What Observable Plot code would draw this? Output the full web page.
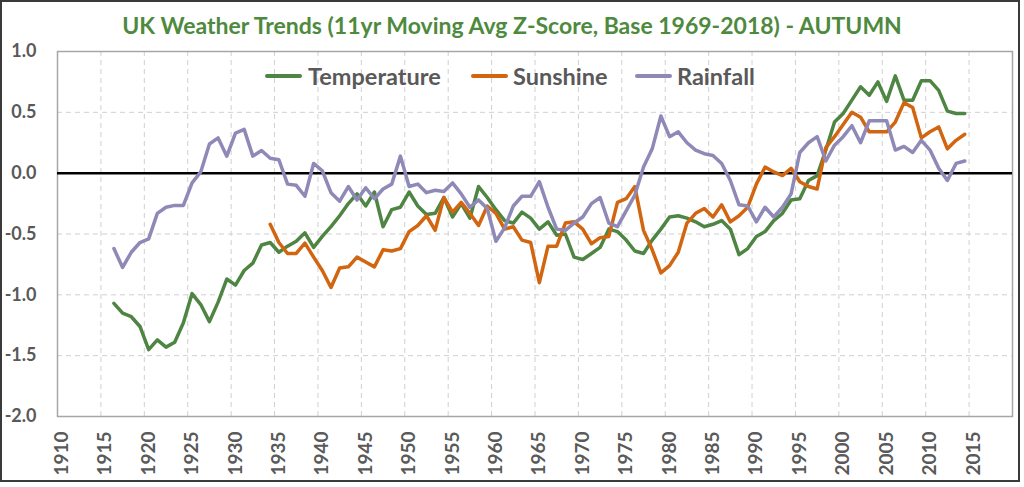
<!DOCTYPE html>
<html>
<head>
<meta charset="utf-8">
<script src="https://cdn.jsdelivr.net/npm/d3@7"></script>
<script src="https://cdn.jsdelivr.net/npm/@observablehq/plot@0.6"></script>
<style>
  html, body { margin: 0; padding: 0; background: #fff; }
  #wrap { position: relative; width: 1024px; height: 487px; overflow: hidden; }
  #title { height: 35px; box-sizing: border-box; padding-top: 15px; text-align: center; white-space: nowrap;
           font-family: Lato, sans-serif; font-weight: bold; font-size: 23px; color: #4e8a3e; line-height: 20px; }
  #border { position: absolute; left: 0; top: 0; width: 1020px; height: 482px; box-sizing: border-box;
            border: 2px solid #3a3a3a; pointer-events: none; }
  .leg { position: absolute; top: 63px; font-family: Lato, sans-serif; font-weight: bold; font-size: 23.5px;
         color: #595959; line-height: 26px; }
  .sw { position: absolute; top: 74px; height: 4px; width: 37px; border-radius: 2px; }
</style>
</head>
<body>
<div id="wrap">
  <div id="title">UK Weather Trends (11yr Moving Avg Z-Score, Base 1969-2018) - AUTUMN</div>
  <div id="chart"></div>
  <div id="legend"></div>
  <div id="border"></div>
</div>
<script>
const seriesNames = ["Temperature", "Sunshine", "Rainfall"];
const seriesColors = ["#4e8542", "#d2650f", "#8e89b6"];

const tempStart = 1916;
const temperature = [
  -1.07, -1.15, -1.18, -1.26, -1.45, -1.37, -1.43, -1.39, -1.23, -0.99,
  -1.08, -1.22, -1.06, -0.87, -0.92, -0.80, -0.74, -0.59, -0.57, -0.65,
  -0.60, -0.56, -0.49, -0.61, -0.52, -0.44, -0.35, -0.25, -0.17, -0.27,
  -0.155, -0.44, -0.30, -0.28, -0.155, -0.27, -0.34, -0.33, -0.20, -0.36,
  -0.25, -0.37, -0.11, -0.20, -0.30, -0.39, -0.41, -0.32, -0.37, -0.46,
  -0.40, -0.51, -0.50, -0.69, -0.71, -0.66, -0.61, -0.46, -0.48, -0.55,
  -0.64, -0.66, -0.55, -0.46, -0.36, -0.35, -0.37, -0.40, -0.44, -0.42,
  -0.39, -0.46, -0.67, -0.62, -0.52, -0.48, -0.39, -0.33, -0.22, -0.21,
  -0.06, -0.02, 0.19, 0.42, 0.49, 0.60, 0.71, 0.64, 0.75, 0.59,
  0.80, 0.60, 0.60, 0.76, 0.76, 0.68, 0.51, 0.49, 0.49
];

const sunStart = 1934;
const sunshine = [
  -0.42, -0.57, -0.66, -0.66, -0.575, -0.69, -0.80, -0.94, -0.78, -0.77,
  -0.69, -0.73, -0.77, -0.63, -0.64, -0.62, -0.48, -0.43, -0.35, -0.47,
  -0.20, -0.32, -0.24, -0.33, -0.43, -0.27, -0.33, -0.46, -0.44, -0.55,
  -0.57, -0.90, -0.60, -0.60, -0.41, -0.40, -0.46, -0.58, -0.53, -0.52,
  -0.24, -0.21, -0.11, -0.47, -0.63, -0.82, -0.76, -0.65, -0.41, -0.33,
  -0.29, -0.36, -0.26, -0.40, -0.35, -0.28, -0.09, 0.05, 0.01, -0.02,
  0.04, -0.07, -0.11, -0.13, 0.21, 0.30, 0.40, 0.50, 0.46, 0.34,
  0.34, 0.34, 0.42, 0.58, 0.54, 0.29, 0.34, 0.38, 0.20, 0.27,
  0.32
];

const rainStart = 1916;
const rainfall = [
  -0.62, -0.775, -0.65, -0.57, -0.54, -0.33, -0.28, -0.265, -0.265, -0.08,
  0.01, 0.24, 0.29, 0.14, 0.33, 0.36, 0.14, 0.186, 0.123, 0.11,
  -0.09, -0.10, -0.19, 0.08, 0.02, -0.16, -0.23, -0.11, -0.22, -0.12,
  -0.21, -0.13, -0.09, 0.14, -0.11, -0.09, -0.16, -0.14, -0.15, -0.08,
  -0.17, -0.28, -0.22, -0.29, -0.56, -0.45, -0.27, -0.19, -0.19, -0.07,
  -0.28, -0.46, -0.47, -0.41, -0.36, -0.25, -0.20, -0.41, -0.44, -0.31,
  -0.18, 0.05, 0.20, 0.47, 0.30, 0.34, 0.25, 0.19, 0.16, 0.145,
  0.08, -0.06, -0.26, -0.27, -0.40, -0.28, -0.36, -0.28, -0.17, 0.17,
  0.25, 0.30, 0.10, 0.23, 0.30, 0.39, 0.25, 0.43, 0.43, 0.43,
  0.19, 0.22, 0.17, 0.27, 0.19, 0.04, -0.06, 0.08, 0.10
];

const xTicks = [1910, 1915, 1920, 1925, 1930, 1935, 1940, 1945, 1950, 1955, 1960,
                1965, 1970, 1975, 1980, 1985, 1990, 1995, 2000, 2005, 2010, 2015];
const yTicks = [-2.0, -1.5, -1.0, -0.5, 0.0, 0.5, 1.0];

function toRows(start, values, name) {
  return values.map((v, i) => ({year: start + i, value: v, series: name}));
}
const tempRows = toRows(tempStart, temperature, seriesNames[0]);
const sunRows = toRows(sunStart, sunshine, seriesNames[1]);
const rainRows = toRows(rainStart, rainfall, seriesNames[2]);

// category boundaries (Excel-style gridlines between categories)
const gridX = xTicks.slice(1).map(t => t - 0.5);
const gridY = yTicks.filter(v => v !== 0 && v !== -2 && v !== 1);

const lineOpts = {x: "year", y: "value", strokeWidth: 3.5, strokeLinejoin: "round", strokeLinecap: "round"};

const chart = Plot.plot({
  width: 1024,
  height: 452,
  marginTop: 16,
  marginBottom: 71,
  marginLeft: 57,
  marginRight: 12,
  style: {fontFamily: "Lato, sans-serif", background: "transparent"},
  x: {domain: [1909.5, 2019.5]},
  y: {domain: [-2, 1]},
  marks: [
    Plot.ruleX(gridX, {stroke: "#d0d0d0", strokeDasharray: "5,4", strokeWidth: 1}),
    Plot.ruleY(gridY, {stroke: "#d0d0d0", strokeDasharray: "5,4", strokeWidth: 1}),
    Plot.frame({stroke: "#a6a6a6", strokeWidth: 1.5}),
    Plot.ruleY([0], {stroke: "#000", strokeWidth: 2.5}),
    Plot.lineY(tempRows, {...lineOpts, stroke: seriesColors[0]}),
    Plot.lineY(sunRows, {...lineOpts, stroke: seriesColors[1]}),
    Plot.lineY(rainRows, {...lineOpts, stroke: seriesColors[2]}),
    Plot.axisX({ticks: xTicks, tickSize: 0, tickPadding: 15, tickRotate: -90,
      tickFormat: d => String(d), fontSize: 19, fontWeight: "bold", fill: "#595959", label: null}),
    Plot.axisY({ticks: yTicks, tickSize: 0, tickPadding: 21,
      tickFormat: d => d.toFixed(1), fontSize: 18, fontWeight: "bold", fill: "#595959", label: null})
  ]
});
document.getElementById("chart").appendChild(chart);

// legend
const legend = document.getElementById("legend");
const legSw = [265, 471, 635];
const legTx = [308, 513, 677];
seriesNames.forEach((n, i) => {
  const s = document.createElement("div");
  s.className = "sw"; s.style.left = legSw[i] + "px"; s.style.background = seriesColors[i];
  legend.appendChild(s);
  const t = document.createElement("div");
  t.className = "leg"; t.style.left = legTx[i] + "px"; t.textContent = n;
  legend.appendChild(t);
});
</script>
</body>
</html>
